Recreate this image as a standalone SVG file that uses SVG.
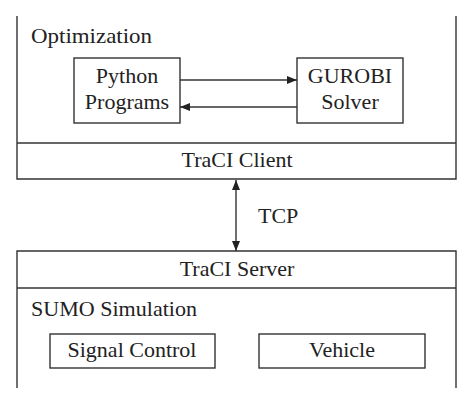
<svg xmlns="http://www.w3.org/2000/svg" width="474" height="406" viewBox="0 0 474 406">
<defs>
<style>
.b{fill:none;stroke:#333;stroke-width:1.4}
.t{font-family:"Liberation Serif","Times New Roman",serif;font-size:22px;fill:#222}
.c{text-anchor:middle}
.e{stroke:#333;stroke-width:1.4;fill:none}
</style>
<marker id="ah" viewBox="0 0 10 8" refX="10" refY="4" markerWidth="10" markerHeight="8" markerUnits="userSpaceOnUse" orient="auto-start-reverse">
<path d="M0,0 L10,4 L0,8 Z" fill="#222"/>
</marker>
</defs>
<rect width="474" height="406" fill="#fff"/>
<g id="optimization">
<path class="b" d="M17,16 V179 H456 V16"/>
<text class="t" x="31" y="43" textLength="121" lengthAdjust="spacingAndGlyphs">Optimization</text>
</g>
<g id="traci-client">
<path class="b" d="M17,143 H456"/>
<text class="t c" x="237" y="167">TraCI Client</text>
</g>
<g id="python">
<rect class="b" x="74" y="58" width="106" height="65"/>
<text class="t c" x="127" y="83">Python</text>
<text class="t c" x="127" y="109">Programs</text>
</g>
<g id="gurobi">
<rect class="b" x="297" y="58" width="106" height="65"/>
<text class="t c" x="350" y="83">GUROBI</text>
<text class="t c" x="350" y="109">Solver</text>
</g>
<g id="sumo">
<path class="b" d="M17,388 V251 H456 V388"/>
<text class="t" x="31" y="316" textLength="166" lengthAdjust="spacingAndGlyphs">SUMO Simulation</text>
</g>
<g id="traci-server">
<path class="b" d="M17,288 H456"/>
<text class="t c" x="237" y="276">TraCI Server</text>
</g>
<g id="signal">
<rect class="b" x="50" y="334" width="165" height="34"/>
<text class="t c" x="132" y="357">Signal Control</text>
</g>
<g id="vehicle">
<rect class="b" x="259" y="334" width="166" height="34"/>
<text class="t c" x="342" y="357">Vehicle</text>
</g>
<g id="connectors">
<line class="e" x1="180" y1="80" x2="297" y2="80" marker-end="url(#ah)"/>
<line class="e" x1="297" y1="107" x2="180" y2="107" marker-end="url(#ah)"/>
<line class="e" x1="236" y1="180" x2="236" y2="251" marker-start="url(#ah)" marker-end="url(#ah)"/>
<text class="t" x="258" y="223">TCP</text>
</g>
</svg>
